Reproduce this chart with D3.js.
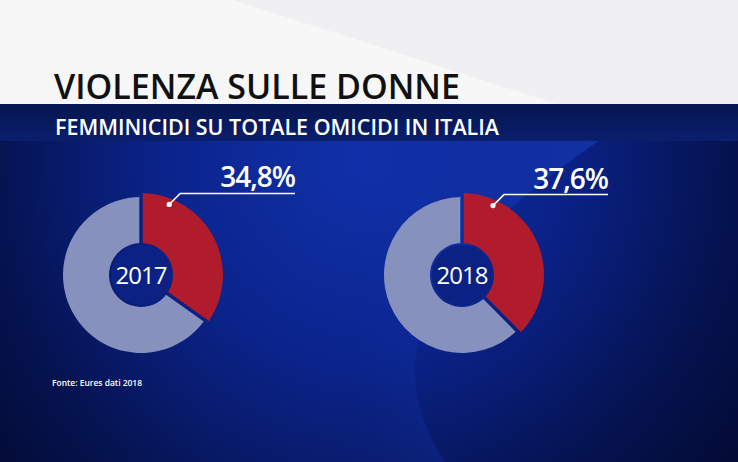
<!DOCTYPE html>
<html><head><meta charset="utf-8">
<script src="https://cdn.jsdelivr.net/npm/d3@7"></script>
<style>html,body{margin:0;padding:0;background:#fff;overflow:hidden}svg{display:block}</style>
</head><body>
<script>
const title = "VIOLENZA SULLE DONNE";
const subtitle = "FEMMINICIDI SU TOTALE OMICIDI IN ITALIA";
const source = "Fonte: Eures dati 2018";
const years = ["2017", "2018"];
const femicideShare = [34.8, 37.6];
const shareLabels = ["34,8%", "37,6%"];

const W = 738, H = 462;
const svg = d3.select("body").append("svg").attr("width", W).attr("height", H);
const defs = svg.append("defs");

const rg = defs.append("radialGradient").attr("id", "bg").attr("gradientUnits", "userSpaceOnUse")
  .attr("cx", 360).attr("cy", 160).attr("r", 500);
rg.append("stop").attr("offset", 0).attr("stop-color", "#1030a8");
rg.append("stop").attr("offset", 0.4).attr("stop-color", "#0a2288");
rg.append("stop").attr("offset", 0.75).attr("stop-color", "#05124e");
rg.append("stop").attr("offset", 1).attr("stop-color", "#030a30");

const sw = defs.append("linearGradient").attr("id", "sw").attr("x1", 0).attr("x2", 1).attr("y1", 0).attr("y2", 0);
sw.append("stop").attr("offset", 0).attr("stop-color", "#1638b8").attr("stop-opacity", 0);
sw.append("stop").attr("offset", 0.6).attr("stop-color", "#1638b8").attr("stop-opacity", 0.12);
sw.append("stop").attr("offset", 1).attr("stop-color", "#1c44c8").attr("stop-opacity", 0.5);

const bandG = defs.append("linearGradient").attr("id", "band").attr("x1", 0).attr("x2", 0).attr("y1", 0).attr("y2", 1);
bandG.append("stop").attr("offset", 0).attr("stop-color", "#061650");
bandG.append("stop").attr("offset", 1).attr("stop-color", "#0a1e6c");

svg.append("rect").attr("x", 0).attr("y", 0).attr("width", W).attr("height", 105).attr("fill", "#f7f7f8");
svg.append("path").attr("d", "M233,0 L738,0 L738,105 L560,105 Z").attr("fill", "#f0f0f2");

svg.append("rect").attr("x", 0).attr("y", 140).attr("width", W).attr("height", H - 140).attr("fill", "url(#bg)");
svg.append("path").attr("d", "M0,140 L600,140 C470,230 360,330 445,462 L0,462 Z").attr("fill", "url(#sw)");

svg.append("rect").attr("x", 0).attr("y", 104).attr("width", W).attr("height", 37).attr("fill", "url(#band)");

svg.append("text").attr("x", 54).attr("y", 99).text(title)
  .attr("font-family", "Open Sans, sans-serif").attr("font-size", 34).attr("font-weight", 600).attr("fill", "#111")
  .attr("textLength", 406).attr("lengthAdjust", "spacingAndGlyphs");
svg.append("text").attr("x", 55).attr("y", 135).text(subtitle)
  .attr("font-family", "Open Sans, sans-serif").attr("font-size", 21).attr("font-weight", 600).attr("fill", "#fff")
  .attr("textLength", 444).attr("lengthAdjust", "spacingAndGlyphs");

svg.append("text").attr("x", 52).attr("y", 386).text(source)
  .attr("font-family", "Open Sans, sans-serif").attr("font-size", 9.5).attr("font-weight", 600).attr("fill", "#fff")
  .attr("textLength", 90).attr("lengthAdjust", "spacingAndGlyphs");

const cx = d3.scalePoint().domain(years).range([141, 462]);
const cy = 275;
const pie = d3.pie().sort(null).value(d => d.v);
const colors = ["#b01c2c", "#8691be"];
const arcRed = d3.arc().innerRadius(32).outerRadius(82).padAngle(0.04);
const arcGray = d3.arc().innerRadius(32).outerRadius(78).padAngle(0.04);

years.forEach((yr, i) => {
  const g = svg.append("g").attr("transform", `translate(${cx(yr)},${cy})`);
  const data = pie([{k: "f", v: femicideShare[i]}, {k: "o", v: 100 - femicideShare[i]}]);
  g.selectAll("path").data(data).join("path")
    .attr("d", (d, j) => (j === 0 ? arcRed : arcGray)(d))
    .attr("fill", (d, j) => colors[j]);
  g.append("circle").attr("r", 30).attr("fill", "#0b2284");
  g.append("text").attr("y", 9).attr("text-anchor", "middle").text(yr)
    .attr("font-family", "Open Sans, sans-serif").attr("font-size", 24).attr("fill", "#fff")
    .attr("letter-spacing", -1);

  const a = 0.38 + i * 0.04, r = 76;
  const px = r * Math.sin(a), py = -r * Math.cos(a);
  const ex = px + 11, ey = py - 11;
  const lineEnd = 154 - i * 8;
  g.append("path").attr("d", `M${px},${py} L${ex},${ey} L${lineEnd},${ey}`)
    .attr("fill", "none").attr("stroke", "#fff").attr("stroke-width", 1.5);
  g.append("circle").attr("cx", px).attr("cy", py).attr("r", 2.6).attr("fill", "#fff");
  g.append("text").attr("x", lineEnd).attr("y", ey - 6).attr("text-anchor", "end").text(shareLabels[i])
    .attr("font-family", "Open Sans, sans-serif").attr("font-size", 28).attr("font-weight", 600).attr("fill", "#fff")
    .attr("letter-spacing", -1);
});
</script>
</body></html>
